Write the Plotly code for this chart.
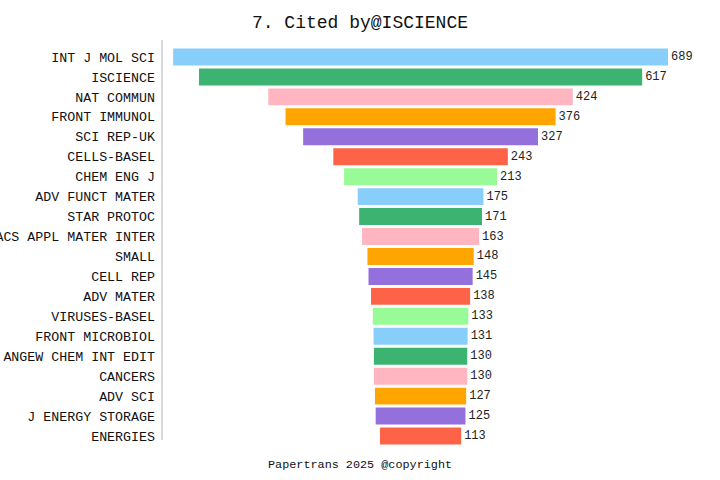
import plotly.graph_objects as go

journals = ["INT J MOL SCI", "ISCIENCE", "NAT COMMUN", "FRONT IMMUNOL", "SCI REP-UK",
            "CELLS-BASEL", "CHEM ENG J", "ADV FUNCT MATER", "STAR PROTOC",
            "ACS APPL MATER INTER", "SMALL", "CELL REP", "ADV MATER", "VIRUSES-BASEL",
            "FRONT MICROBIOL", "ANGEW CHEM INT EDIT", "CANCERS", "ADV SCI",
            "J ENERGY STORAGE", "ENERGIES"]
citations = [689, 617, 424, 376, 327, 243, 213, 175, 171, 163, 148, 145, 138, 133,
             131, 130, 130, 127, 125, 113]
palette = ["#87CEFA", "#3CB371", "#FFB6C1", "#FFA500", "#9370DB", "#FF6347", "#98FB98"]
title_text = "7. Cited by@ISCIENCE"
footer_text = "Papertrans 2025 @copyright"

colors = [palette[i % len(palette)] for i in range(len(journals))]
mono = "Liberation Mono"

fig = go.Figure(go.Funnel(
    y=journals, x=citations,
    marker=dict(color=colors),
    textposition="outside", textinfo="value",
    textfont=dict(family=mono, size=12, color="#222"),
    connector=dict(visible=False),
    cliponaxis=False,
))

L, R, T, B = 162, 42, 47, 34
H = 480 - T - B
PW = 720 - L - R
fig.update_layout(
    width=720, height=480,
    margin=dict(l=L, r=R, t=T, b=B, autoexpand=False),
    plot_bgcolor="white", paper_bgcolor="white",
    title=dict(text=title_text, x=0.5, xanchor="center",
               y=1 - 22 / 480, yref="container", yanchor="middle",
               font=dict(family=mono, size=18, color="#111")),
    showlegend=False,
    funnelgap=0.15,
    yaxis=dict(showline=False, ticks="", automargin=False, ticklabelstandoff=6,
               tickfont=dict(family=mono, size=13.3, color="#111")),
    xaxis=dict(visible=False, range=[-360, 358.4], automargin=False),
    shapes=[dict(type="line", xref="paper", yref="paper", x0=0, x1=0,
                 y0=6 / H, y1=1 + 7 / H, line=dict(color="#d9d9d9", width=2))],
    annotations=[dict(text=footer_text, xref="paper", yref="paper",
                      x=(360 - L) / PW, y=-19 / H, xanchor="center",
                      yanchor="middle", showarrow=False,
                      font=dict(family=mono, size=11.8, color="#111"))],
)
fig.write_html("out.html", config={"displayModeBar": False},
               post_script="document.body.style.margin='0';")
